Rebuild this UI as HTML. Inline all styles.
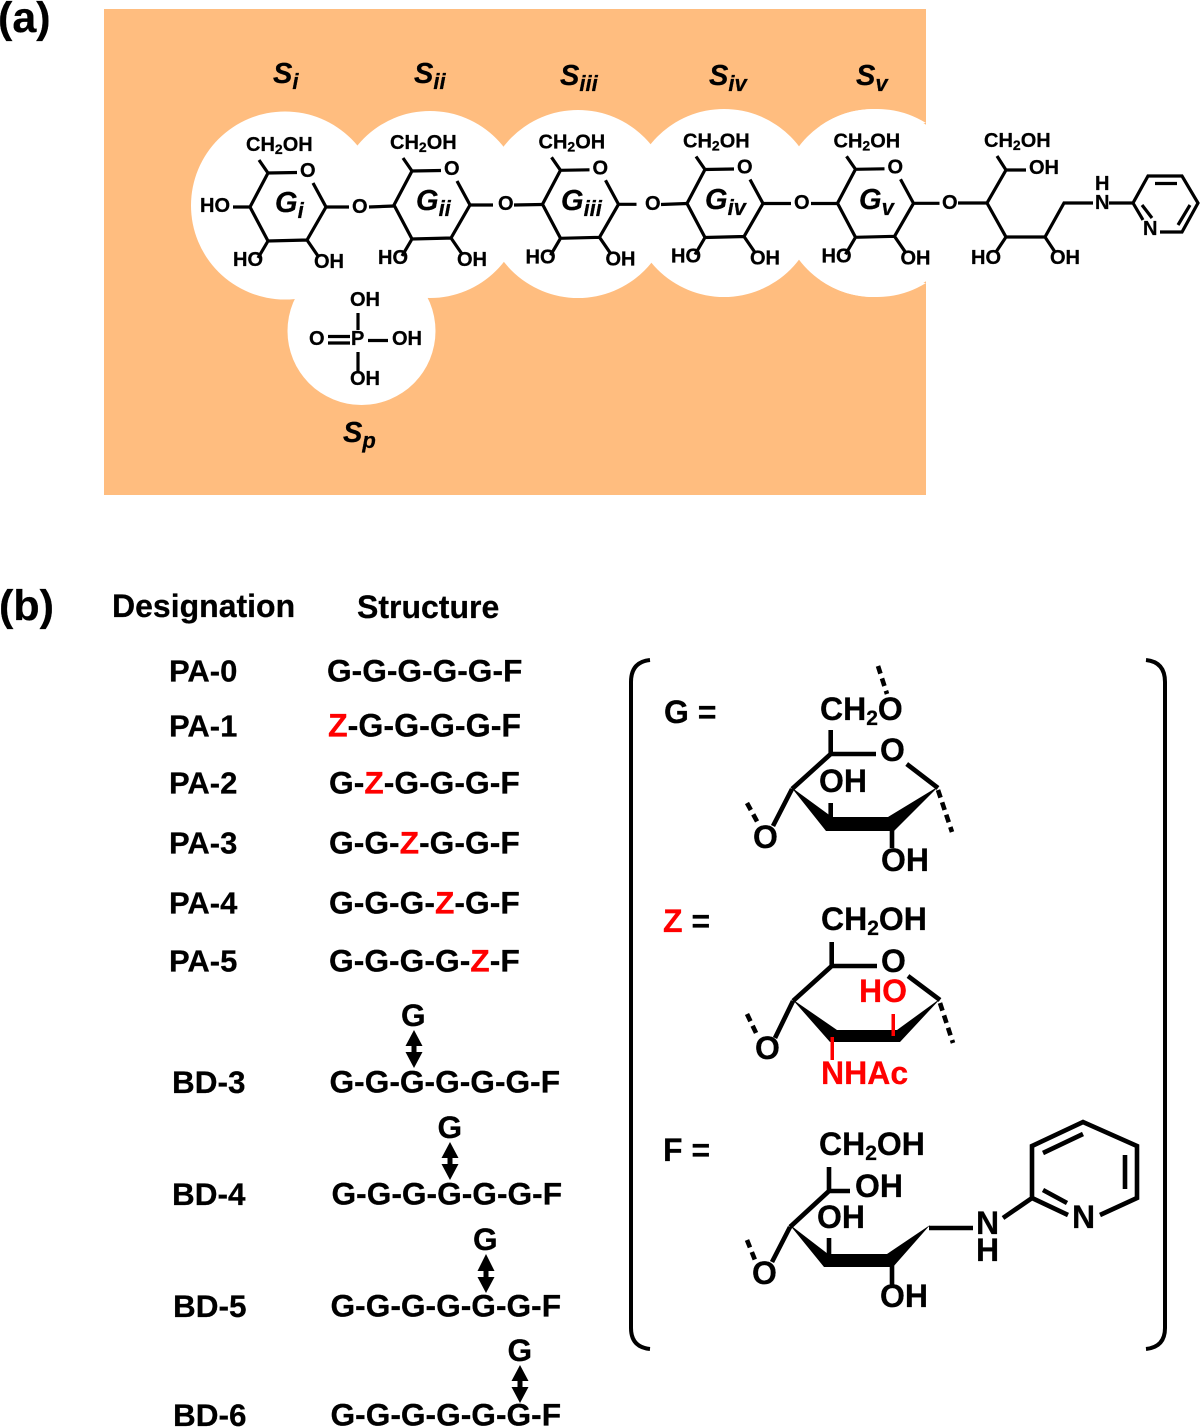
<!DOCTYPE html>
<html><head><meta charset="utf-8"><style>
html,body{margin:0;padding:0;background:#fff;width:1200px;height:1428px;overflow:hidden}
svg{display:block}
text{font-family:"Liberation Sans",sans-serif;font-weight:700;fill:#000;stroke:#000;stroke-width:.25}
.s text{font-size:20px}
.b{fill:none;stroke:#000;stroke-width:3.2;stroke-linecap:butt;stroke-linejoin:miter}
.B{fill:none;stroke:#000;stroke-width:4.6;stroke-linejoin:miter}
.d{fill:none;stroke:#000;stroke-width:4.6;stroke-dasharray:8 5}
.r{fill:#f00;stroke:#f00}
.i{font-style:italic}
.L text{font-size:32px}
</style></head><body>
<svg width="1200" height="1428" viewBox="0 0 1200 1428" xmlns="http://www.w3.org/2000/svg">
<rect x="104" y="9" width="822" height="486" fill="#FFBD7F"/>
<g fill="#fff">
<circle cx="285" cy="205.5" r="94"/><circle cx="430" cy="204.5" r="93.5"/><circle cx="578" cy="204" r="94"/><circle cx="724" cy="203" r="94"/><circle cx="874" cy="203" r="94"/><circle cx="361.500" cy="331" r="74"/>
</g>
<rect x="926" y="0" width="274" height="500" fill="#fff"/>
<path d="M926 123A94 94 0 0 0 874 109A94 94 0 0 0 820 126Z M926 283A94 94 0 0 1 874 297A94 94 0 0 1 820 280Z" fill="#fff"/>

<text x="-2" y="32" font-size="43">(a)</text>
<text x="-1" y="620" font-size="43">(b)</text>

<!-- site labels -->
<g class="i">
<text x="273" y="83" font-size="29">S<tspan font-size="22" dy="6">i</tspan></text>
<text x="414" y="83" font-size="29">S<tspan font-size="22" dy="6">ii</tspan></text>
<text x="560" y="85" font-size="29">S<tspan font-size="22" dy="6">iii</tspan></text>
<text x="709" y="85" font-size="29">S<tspan font-size="22" dy="6">iv</tspan></text>
<text x="856" y="85" font-size="29">S<tspan font-size="22" dy="6">v</tspan></text>
<text x="343" y="442" font-size="29">S<tspan font-size="22" dy="6">p</tspan></text>
</g>

<!-- ring Gi -->
<g class="s">
<path class="b" d="M259 160L268 173L297 172.5M313 183L326 207L307 240L268 241L250 207L268 173M233 207L250 207M268 241L258 258M307 240L318 256M326 207L349 207M369 207L394 206"/>
<text x="246" y="151">CH<tspan font-size="14" dy="3">2</tspan><tspan dy="-3">OH</tspan></text>
<text x="300" y="177">O</text>
<text x="352" y="213">O</text>
<text x="200" y="212">HO</text>
<text x="233" y="266">HO</text>
<text x="314" y="268">OH</text>
</g>
<text x="275" y="212" font-size="29" class="i">G<tspan font-size="22" dy="6">i</tspan></text>

<!-- ring Gii -->
<g class="s">
<g transform="translate(144,-2)">
<path class="b" d="M259 160L268 173L297 172.5M313 183L326 207L307 240L268 241L250 207L268 173M268 241L258 258M307 240L318 256M326 207L349 207"/>
<text x="246" y="151">CH<tspan font-size="14" dy="3">2</tspan><tspan dy="-3">OH</tspan></text>
<text x="300" y="177">O</text>
<text x="234" y="266">HO</text>
<text x="313" y="268">OH</text>
</g>
<text x="498" y="210">O</text>
<path class="b" d="M514 205L542 204.500"/>
</g>
<text x="416" y="210" font-size="29" class="i">G<tspan font-size="22" dy="6">ii</tspan></text>

<!-- ring Giii -->
<g class="s">
<g transform="translate(292.500,-2.700)">
<path class="b" d="M259 160L268 173L297 172.5M313 183L326 207L307 240L268 241L250 207L268 173M268 241L258 258M307 240L318 256M326 207L344 207"/>
<text x="246" y="151">CH<tspan font-size="14" dy="3">2</tspan><tspan dy="-3">OH</tspan></text>
<text x="300" y="177">O</text>
<text x="233" y="266">HO</text>
<text x="313" y="268">OH</text>
</g>
<text x="645" y="210">O</text>
<path class="b" d="M661 204.500L687 203.500"/>
</g>
<text x="561" y="210" font-size="29" class="i">G<tspan font-size="22" dy="6">iii</tspan></text>

<!-- ring Giv -->
<g class="s">
<g transform="translate(437,-3.500)">
<path class="b" d="M259 160L268 173L297 172.5M313 183L326 207L307 240L268 241L250 207L268 173M268 241L258 258M307 240L318 256M326 207L354 207"/>
<text x="246" y="151">CH<tspan font-size="14" dy="3">2</tspan><tspan dy="-3">OH</tspan></text>
<text x="300" y="177">O</text>
<text x="234" y="266">HO</text>
<text x="313" y="268">OH</text>
</g>
<text x="794" y="209">O</text>
<path class="b" d="M811 203.500L838 203.500"/>
</g>
<text x="705" y="209" font-size="29" class="i">G<tspan font-size="22" dy="6">iv</tspan></text>

<!-- ring Gv -->
<g class="s">
<g transform="translate(587.500,-3.700)">
<path class="b" d="M259 160L268 173L297 172.500M313 183L326 207L307 240L268 241L250 207L268 173M268 241L258 258M307 240L318 256M326 207L352 207"/>
<text x="246" y="151">CH<tspan font-size="14" dy="3">2</tspan><tspan dy="-3">OH</tspan></text>
<text x="300" y="177">O</text>
<text x="234" y="266">HO</text>
<text x="313" y="268">OH</text>
</g>
<text x="942" y="209">O</text>
</g>
<text x="859" y="209" font-size="29" class="i">G<tspan font-size="22" dy="6">v</tspan></text>

<!-- chain F -->
<g class="s">
<path class="b" d="M958 203L987 203L1006 170L997 156M1006 170L1026 170M987 203L1006 237L1045 237L1064 203L1093 203M1006 237L996 252M1045 237L1055 252M1109 203L1133 203L1148 176L1182 176L1198 203L1182 232L1160 232M1133 203L1143 220M1155 183.500L1177 183.500M1190 205L1178 225M1142 205L1152 218"/>
<text x="984" y="147">CH<tspan font-size="14" dy="3">2</tspan><tspan dy="-3">OH</tspan></text>
<text x="1029" y="174">OH</text>
<text x="971" y="264">HO</text>
<text x="1050" y="264">OH</text>
<text x="1095" y="190" font-size="19">H</text>
<text x="1095" y="209" font-size="19">N</text>
<text x="1143" y="235" font-size="19">N</text>
</g>

<!-- phosphate -->
<g class="s">
<path class="b" d="M358 313L358 330M328 336.500L350 336.500M328 343L350 343M368 340.500L388 340.500M358 352L358 372"/>
<text x="350" y="306">OH</text>
<text x="309" y="345">O</text>
<text x="351" y="345">P</text>
<text x="392" y="345">OH</text>
<text x="350" y="385">OH</text>
</g>

<!-- table -->
<text x="112" y="617" font-size="32">Designation</text>
<text x="357" y="618" font-size="32">Structure</text>
<g>
<text x="169" y="681.500" font-size="31">PA-0</text>
<text x="169" y="736.500" font-size="31">PA-1</text>
<text x="169" y="793.500" font-size="31">PA-2</text>
<text x="169" y="853.500" font-size="31">PA-3</text>
<text x="169" y="913.500" font-size="31">PA-4</text>
<text x="169" y="971.500" font-size="31">PA-5</text>
<text x="172" y="1093" font-size="31.500">BD-3</text>
<text x="172" y="1205" font-size="31.500">BD-4</text>
<text x="173" y="1317" font-size="31.500">BD-5</text>
<text x="173" y="1426" font-size="31.500">BD-6</text>
</g>
<g>
<text x="327" y="681.500" font-size="31.700">G-G-G-G-G-F</text>
<text x="328" y="736.500" font-size="32.200"><tspan class="r">Z</tspan>-G-G-G-G-F</text>
<text x="329" y="793.500" font-size="31.800">G-<tspan class="r">Z</tspan>-G-G-G-F</text>
<text x="329" y="853.500" font-size="31.800">G-G-<tspan class="r">Z</tspan>-G-G-F</text>
<text x="329" y="913.500" font-size="31.800">G-G-G-<tspan class="r">Z</tspan>-G-F</text>
<text x="329" y="971.500" font-size="31.800">G-G-G-G-<tspan class="r">Z</tspan>-F</text>
<text x="329.500" y="1092.500" font-size="31.700">G-G-G-G-G-G-F</text>
<text x="331.500" y="1204.500" font-size="31.700">G-G-G-G-G-G-F</text>
<text x="330.500" y="1316.500" font-size="31.700">G-G-G-G-G-G-F</text>
<text x="330.500" y="1425.500" font-size="31.700">G-G-G-G-G-G-F</text>
<text x="401" y="1026" font-size="31.600">G</text>
<text x="437.500" y="1138" font-size="31.600">G</text>
<text x="473" y="1250" font-size="31.600">G</text>
<text x="507.500" y="1361" font-size="31.600">G</text>
</g>
<!-- double arrows -->
<path d="M414 1030L422.500 1046H416.500V1052H422.500L414 1068L405.500 1052H411.500V1046H405.500Z"/>
<path d="M450 1142L458.500 1158H452.500V1164H458.500L450 1180L441.500 1164H447.500V1158H441.500Z"/>
<path d="M486 1254L494.500 1271H488.500V1277H494.500L486 1293L477.500 1277H483.500V1271H477.500Z"/>
<path d="M520 1365L528.500 1381H522.500V1387H528.500L520 1403L511.500 1387H517.500V1381H511.500Z"/>

<!-- brackets -->
<path d="M650 660Q631 662 631 682V1328Q631 1347 650 1349" fill="none" stroke="#000" stroke-width="4"/>
<path d="M1146 660Q1165 662 1165 682V1328Q1165 1347 1146 1349" fill="none" stroke="#000" stroke-width="4"/>

<g class="L">
<text x="664" y="723">G =</text>
<text x="663" y="932"><tspan class="r">Z</tspan> =</text>
<text x="663" y="1161">F =</text>

<!-- G -->
<path class="d" d="M878 666L887 694"/>
<path class="B" d="M830.700 730L830.700 754L876 754M906.700 764L938 788M792 789L830.700 754M792 789L773 826M830.700 803L830.700 822M892 828L892 848"/>
<path d="M791 787L832 817L888 817L939 786L894 831L826 831Z"/>
<path class="d" d="M938 790L952 832"/>
<path class="d" d="M747 803L759 825"/>
<text x="820" y="720">CH<tspan font-size="21" dy="5">2</tspan><tspan dy="-5">O</tspan></text>
<text x="880" y="761">O</text>
<text x="819" y="792">OH</text>
<text x="881" y="871">OH</text>
<text x="753" y="848">O</text>

<!-- Z -->
<path class="B" d="M831.700 942L831.700 966L877 966M908 976L940 1000M793 1001L831.700 966M793 1001L775 1038"/>
<path d="M792 999L837 1030L897 1030L941 998L900 1042L830 1042Z"/>
<path class="d" d="M940 1003L953 1043"/>
<path class="d" d="M747 1014L758 1037"/>
<path d="M830.500 1037H834V1060H830.500ZM891.500 1014H895V1036H891.500Z" fill="#f00"/>
<text x="821" y="930">CH<tspan font-size="21" dy="5">2</tspan><tspan dy="-5">OH</tspan></text>
<text x="881" y="972">O</text>
<text x="755" y="1059">O</text>
<text x="859" y="1002" class="r">HO</text>
<text x="821" y="1084" class="r">NHAc</text>

<!-- F -->
<path class="B" d="M829 1167L829 1191L850 1191M829 1191L790 1227M790 1227L772 1262M829 1238L829 1256M892 1265L892 1285M929 1228L973 1228M1003 1218L1032 1198L1032 1146L1083 1122L1137 1146L1137 1198L1100 1215M1032 1198L1068 1215M1043 1153L1083 1134M1125 1155L1125 1189M1043 1190L1067 1203"/>
<path d="M789 1224L828 1254L887 1254L930 1225L893 1267L824 1267Z"/>
<path class="d" d="M747 1240L755 1260"/>
<text x="819" y="1155">CH<tspan font-size="21" dy="5">2</tspan><tspan dy="-5">OH</tspan></text>
<text x="855" y="1197">OH</text>
<text x="817" y="1228">OH</text>
<text x="880" y="1307">OH</text>
<text x="752" y="1284">O</text>
<text x="976" y="1234">N</text>
<text x="976" y="1261">H</text>
<text x="1072" y="1228">N</text>
</g>
</svg>
</body></html>
